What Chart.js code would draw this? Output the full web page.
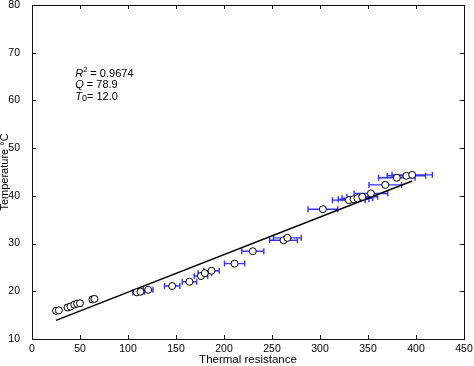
<!DOCTYPE html>
<html>
<head>
<meta charset="utf-8">
<script src="https://cdn.jsdelivr.net/npm/chart.js@4.4.1/dist/chart.umd.min.js"></script>
<style>
html, body { margin: 0; padding: 0; background: #fff; overflow: hidden; }
canvas { display: block; }
</style>
</head>
<body>
<canvas id="thermalChart" width="474" height="370"></canvas>
<script>
// Measured points
const resistance = [25, 28, 37, 40, 44, 47, 50, 63, 65, 109, 113, 121, 146, 164, 176, 180, 187, 211, 230, 262, 266, 303, 330, 335, 339, 344, 353, 368, 380, 390, 396];
const temperature = [15.9, 16.0, 16.6, 16.8, 17.2, 17.4, 17.5, 18.3, 18.4, 19.8, 19.9, 20.3, 21.1, 22.0, 23.2, 23.8, 24.3, 25.8, 28.4, 30.7, 31.2, 37.2, 39.1, 39.3, 39.5, 39.8, 40.5, 42.3, 43.8, 44.2, 44.4];
const resistanceError = [2, 2, 2, 2, 2, 2, 2, 2.5, 2.5, 4, 4, 5, 8, 7.5, 7, 7, 8, 10.5, 11.5, 14.5, 14.5, 15.5, 17, 16, 16, 16, 17.5, 17, 19, 20, 21];

// Fitted line end points
const fitResistance = [25, 396];
const fitTemperature = [13.9, 43.1];

// Axis ticks
const xTicks = [0, 50, 100, 150, 200, 250, 300, 350, 400, 450];
const yTicks = [10, 20, 30, 40, 50, 60, 70, 80];

// Fit statistics
const statR2 = '0.9674';
const statQ = '78.9';
const statT0 = '12.0';

const FONT = '"Liberation Sans", Arial, sans-serif';

// Horizontal error bars in blue
const errorBars = {
    id: 'errorBars',
    beforeDatasetsDraw(chart) {
        const { ctx, scales: { x, y } } = chart;
        ctx.save();
        ctx.strokeStyle = 'rgba(0, 0, 255, 0.8)';
        ctx.lineWidth = 1.4;
        ctx.beginPath();
        resistance.forEach((r, i) => {
            const py = y.getPixelForValue(temperature[i]);
            const x0 = x.getPixelForValue(r - resistanceError[i]);
            const x1 = x.getPixelForValue(r + resistanceError[i]);
            ctx.moveTo(x0, py); ctx.lineTo(x1, py);
            ctx.moveTo(x0, py - 3); ctx.lineTo(x0, py + 3);
            ctx.moveTo(x1, py - 3); ctx.lineTo(x1, py + 3);
        });
        ctx.stroke();
        ctx.restore();
    }
};

// Box frame with inward ticks on all four sides
const frameTicks = {
    id: 'frameTicks',
    afterDatasetsDraw(chart) {
        const { ctx, chartArea: a, scales: { x, y } } = chart;
        ctx.save();
        ctx.strokeStyle = '#111';
        ctx.lineWidth = 1;
        ctx.strokeRect(Math.round(a.left) + 0.5, Math.round(a.top) + 0.5, Math.round(a.right - a.left), Math.round(a.bottom - a.top));
        ctx.beginPath();
        x.ticks.forEach(t => {
            const px = Math.round(x.getPixelForValue(t.value)) + 0.5;
            ctx.moveTo(px, a.bottom); ctx.lineTo(px, a.bottom - 4);
            ctx.moveTo(px, a.top); ctx.lineTo(px, a.top + 4);
        });
        y.ticks.forEach(t => {
            const py = Math.round(y.getPixelForValue(t.value)) + 0.5;
            ctx.moveTo(a.left, py); ctx.lineTo(a.left + 4, py);
            ctx.moveTo(a.right, py); ctx.lineTo(a.right - 4, py);
        });
        ctx.stroke();
        ctx.restore();
    }
};

// R^2, Q, T0 text block
const statsText = {
    id: 'statsText',
    afterDraw(chart) {
        const { ctx, scales: { x, y } } = chart;
        const lines = [
            [{ t: 'R', i: true }, { t: '2', sup: true }, { t: ' = ' + statR2 }],
            [{ t: 'Q', i: true }, { t: ' = ' + statQ }],
            [{ t: 'T', i: true }, { t: '0', sub: true }, { t: '= ' + statT0 }]
        ];
        const baseY = [65.0, 62.55, 60.1];
        ctx.save();
        ctx.fillStyle = '#000';
        ctx.textBaseline = 'alphabetic';
        lines.forEach((runs, k) => {
            let px = x.getPixelForValue(45);
            const py = y.getPixelForValue(baseY[k]);
            runs.forEach(run => {
                const size = run.sup ? 7.5 : run.sub ? 9 : 11;
                ctx.font = `${run.i ? 'italic ' : ''}${size}px ${FONT}`;
                const dy = run.sup ? -4.5 : run.sub ? 1.5 : 0;
                ctx.fillText(run.t, px, py + dy);
                px += ctx.measureText(run.t).width;
            });
        });
        ctx.restore();
    }
};

const createThermalChart = () => {
    const ctx = document.getElementById('thermalChart').getContext('2d');
    new Chart(ctx, {
        type: 'scatter',
        data: {
            datasets: [{
                label: 'Measured',
                data: resistance.map((r, i) => ({ x: r, y: temperature[i] })),
                pointRadius: 3.5,
                pointBackgroundColor: '#fff',
                pointBorderColor: '#000',
                pointBorderWidth: 1
            }, {
                label: 'Fit',
                data: fitResistance.map((r, i) => ({ x: r, y: fitTemperature[i] })),
                showLine: true,
                pointRadius: 0,
                borderColor: '#000',
                borderWidth: 1.5
            }]
        },
        options: {
            responsive: false,
            animation: false,
            devicePixelRatio: 1,
            layout: { padding: { top: 5, right: 10, left: 0, bottom: 0 } },
            plugins: {
                legend: { display: false },
                tooltip: { enabled: false }
            },
            scales: {
                x: {
                    type: 'linear',
                    min: 0,
                    max: 450,
                    afterBuildTicks: s => { s.ticks = xTicks.map(v => ({ value: v })); },
                    afterFit: s => { s.height = 31; s.paddingLeft = 0; s.paddingRight = 0; },
                    grid: { display: false },
                    border: { display: false },
                    ticks: { color: '#000', padding: -4, maxRotation: 0, font: { family: FONT, size: 10.5 } },
                    title: { display: true, text: 'Thermal resistance', color: '#000', padding: { top: 0, bottom: 3 }, font: { family: FONT, size: 11.5 } }
                },
                y: {
                    type: 'linear',
                    min: 10,
                    max: 80,
                    afterBuildTicks: s => { s.ticks = yTicks.map(v => ({ value: v })); },
                    afterFit: s => { s.width = 32; s.paddingTop = 0; s.paddingBottom = 0; },
                    grid: { display: false },
                    border: { display: false },
                    ticks: { color: '#000', padding: 4, font: { family: FONT, size: 10.5 } },
                    title: { display: true, text: 'Temperature °C', color: '#000', padding: { top: -1.5, bottom: 0 }, font: { family: FONT, size: 11 } }
                }
            }
        },
        plugins: [errorBars, frameTicks, statsText]
    });
};

document.addEventListener('DOMContentLoaded', createThermalChart);
</script>
</body>
</html>
